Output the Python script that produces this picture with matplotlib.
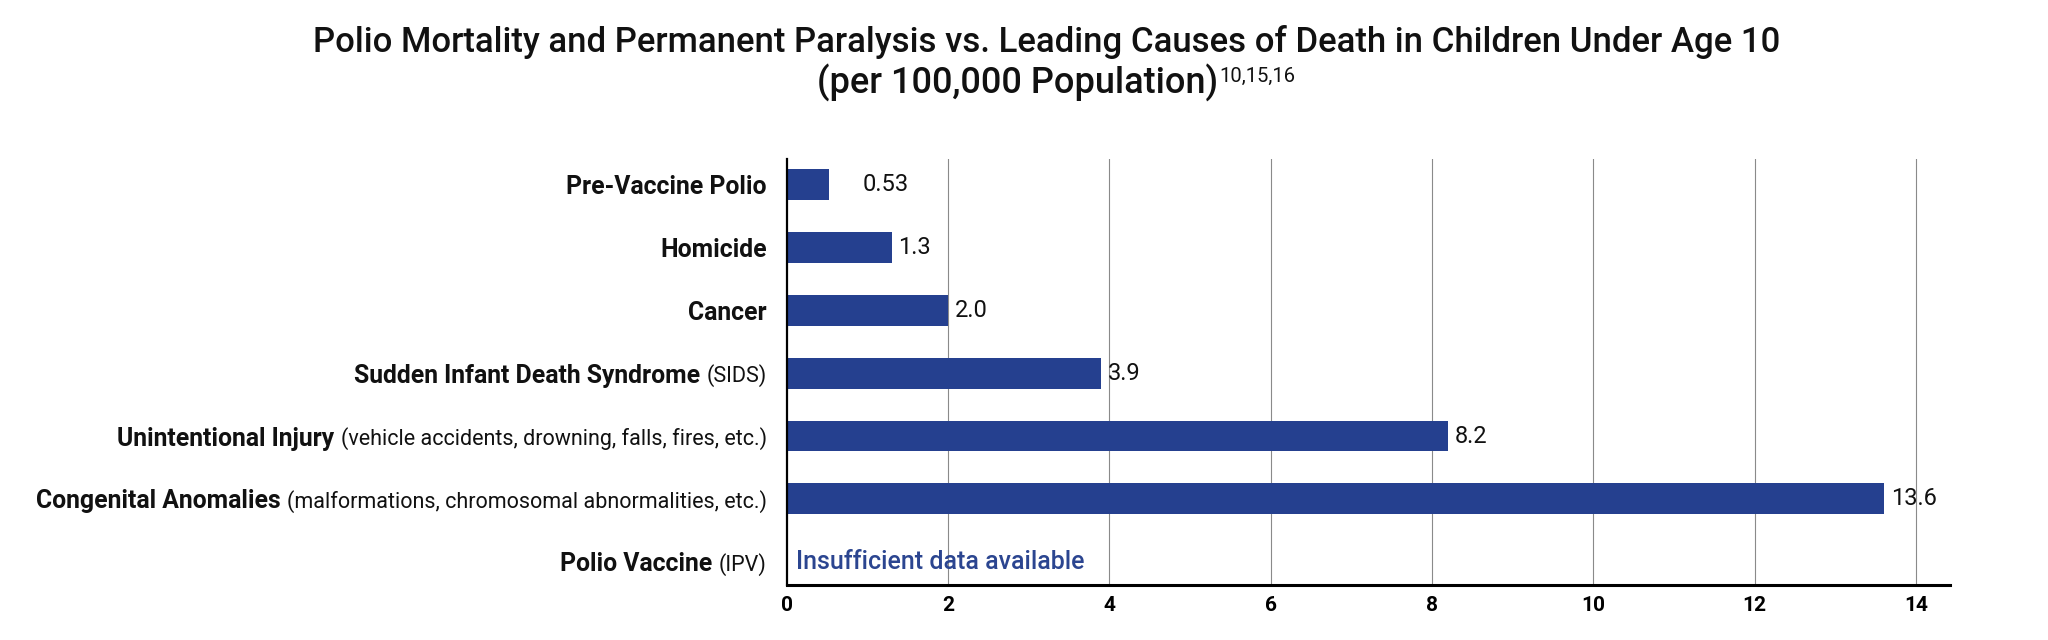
import matplotlib
matplotlib.use('Agg')
import matplotlib.pyplot as plt
import matplotlib.transforms as mtransforms

plt.rcParams['font.family'] = ['Roboto', 'DejaVu Sans']

# data
causes_bold = ['Pre-Vaccine Polio', 'Homicide', 'Cancer', 'Sudden Infant Death Syndrome',
               'Unintentional Injury', 'Congenital Anomalies', 'Polio Vaccine']
causes_note = ['', '', '', '(SIDS)',
               '(vehicle accidents, drowning, falls, fires, etc.)',
               '(malformations, chromosomal abnormalities, etc.)',
               '(IPV)']
rates = [0.53, 1.3, 2.0, 3.9, 8.2, 13.6, None]
rate_labels = ['0.53', '1.3', '2.0', '3.9', '8.2', '13.6', None]
no_data_text = 'Insufficient data available'
x_ticks = [0, 2, 4, 6, 8, 10, 12, 14]

bar_color = '#25408f'

fig = plt.figure(figsize=(20.48, 6.4), dpi=100)
ax = fig.add_axes([0.3841, 0.0859, 0.568, 0.6657])

pos = list(range(len(causes_bold)))
for i, v in enumerate(rates):
    if v is None:
        continue
    ax.barh(i, v, height=0.49, color=bar_color, zorder=3)
    # small values get their label pushed a little further out
    ax.annotate(rate_labels[i], xy=(max(v, 0.86), i), xytext=(5, 0),
                textcoords='offset points', va='center', ha='left',
                fontsize=17, color='#111111', zorder=4)

# missing value note
ax.text(0.12, pos[-1], no_data_text, va='center', ha='left', fontsize=18,
        color='#2b4590', fontweight='medium', zorder=4)

ax.set_xlim(0, 14.42)
ax.set_ylim(6.37, -0.406)

ax.set_xticks(x_ticks)
ax.set_xticklabels([str(t) for t in x_ticks], fontsize=15, fontweight='bold')
shift = mtransforms.ScaledTranslation(4 / 100, 0, fig.dpi_scale_trans)
for lab in ax.get_xticklabels():
    lab.set_transform(lab.get_transform() + shift)
ax.tick_params(axis='x', length=0, pad=8)
ax.set_yticks([])

for t in x_ticks[1:]:
    ax.axvline(t, color='#8a8a8a', lw=0.8, zorder=1)

for s in ['top', 'right']:
    ax.spines[s].set_visible(False)
ax.spines['left'].set_linewidth(1.6)
ax.spines['bottom'].set_linewidth(2.2)
ax.spines['left'].set_color('black')
ax.spines['bottom'].set_color('black')
ax.spines['left'].set_zorder(5)

# category labels: bold name plus regular note
for i in pos:
    if causes_note[i]:
        note = ax.annotate(causes_note[i], xy=(0, i), xycoords=('axes fraction', 'data'),
                           xytext=(-14.4, 0), textcoords='offset points',
                           ha='right', va='center_baseline', fontsize=15.5, color='#111111')
        ax.annotate(causes_bold[i] + ' ', xy=(0, i), xycoords=(note, 'data'),
                    ha='right', va='center_baseline', fontsize=17.8, fontweight='bold',
                    color='#111111', annotation_clip=False)
    else:
        ax.annotate(causes_bold[i], xy=(0, i), xycoords=('axes fraction', 'data'),
                    xytext=(-14.4, 0), textcoords='offset points',
                    ha='right', va='center_baseline', fontsize=17.8, fontweight='bold',
                    color='#111111', annotation_clip=False)

# title
fig.text(0.511, 0.919, 'Polio Mortality and Permanent Paralysis vs. Leading Causes of Death in Children Under Age 10',
         ha='center', va='baseline', fontsize=25, fontweight='medium', color='#111111')
line2 = fig.text(0.5947, 0.853, '(per 100,000 Population)', ha='right', va='baseline',
                 fontsize=26, fontweight='medium', color='#111111')
ax.annotate('10,15,16', xy=(1, 0.93), xycoords=line2, xytext=(1, 0),
            textcoords='offset points', ha='left', va='top', fontsize=14.5, color='#111111',
            annotation_clip=False)

fig.savefig('out.png', dpi=100, facecolor='white')
